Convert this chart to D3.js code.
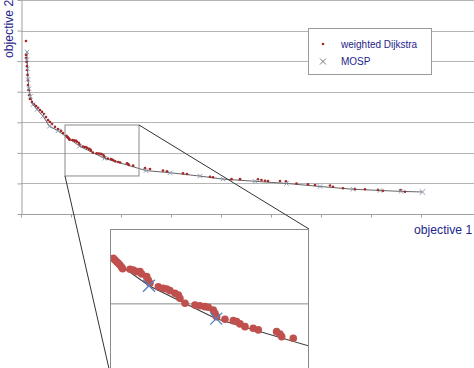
<!DOCTYPE html>
<html><head><meta charset="utf-8">
<script src="https://cdn.jsdelivr.net/npm/d3@7"></script>
<style>
html,body{margin:0;padding:0;background:#fff;}
svg{display:block;}
text{font-family:"Liberation Sans",Arial,sans-serif;}
</style></head>
<body>
<svg id="chart" width="474" height="368"></svg>
<script>
// ---- data (chart units) ----
const xTicks = [0,1,2,3,4,5,6,7,8];
const yTicks = [1,2,3,4,5,6,7];
const dijkstraX = [0.10,0.10,0.10,0.11,0.12,0.12,0.13,0.14,0.14,0.15,0.16,0.18,0.22,0.26,0.30,0.34,0.38,0.42,0.46,0.50,0.54,0.58,0.62,0.68,0.74,0.80,0.84,
  0.905,0.917,0.930,0.942,0.954,0.967,0.974,1.029,1.053,1.079,1.103,1.116,1.153,1.165,1.177,1.239,1.276,1.302,1.326,1.363,1.388,1.400,1.438,1.512,1.549,1.586,1.611,1.648,1.661,1.673,1.735,1.797,1.822,1.847,1.884,1.945,1.983,2.119,2.144,2.157,2.243,
  2.48,2.58,2.84,2.92,3.24,3.32,3.78,3.84,4.21,4.38,4.74,4.81,4.88,4.94,5.18,5.30,5.51,5.74,5.88,6.18,6.24,6.44,6.68,6.88,7.14,7.24,7.59,7.68];
const dijkstraY = [5.66,5.20,5.10,4.97,4.84,4.71,4.55,4.38,4.22,4.06,3.89,3.76,3.66,3.59,3.53,3.47,3.40,3.34,3.27,3.17,3.07,3.01,2.94,2.85,2.78,2.72,2.65,
  2.555,2.534,2.513,2.493,2.473,2.445,2.428,2.421,2.412,2.392,2.392,2.364,2.331,2.291,2.251,2.209,2.190,2.181,2.161,2.129,2.108,2.068,2.007,1.987,1.978,1.966,1.959,1.926,1.886,1.844,1.813,1.796,1.784,1.756,1.723,1.703,1.683,1.662,1.634,1.601,1.582,
  1.50,1.47,1.42,1.40,1.33,1.31,1.22,1.20,1.14,1.14,1.135,1.11,1.09,1.08,1.08,1.07,1.00,0.97,0.95,0.93,0.89,0.84,0.81,0.81,0.785,0.76,0.785,0.73];
const mospX = [0.12,0.12,0.13,0.14,0.16,0.19,0.24,0.32,0.44,0.57,0.74,1.17,1.67,2.50,2.98,3.58,4.04,4.68,5.31,5.98,6.64,7.18,7.60,8.03];
const mospY = [5.30,5.05,4.75,4.40,4.10,3.85,3.58,3.42,3.20,2.87,2.72,2.22,1.82,1.42,1.35,1.24,1.14,1.07,1.00,0.90,0.81,0.77,0.74,0.72];
const zoomX = [0.88, 2.36];
const zoomY = [1.244, 2.911];
const legendLabels = ["weighted Dijkstra", "MOSP"];
const axisLabels = ["objective 1", "objective 2"];

const dijkstra = dijkstraX.map((x,i)=>({x, y: dijkstraY[i]}));
const mosp = mospX.map((x,i)=>({x, y: mospY[i]}));

const svg = d3.select("#chart");
const navy = "#24248a";
const gridCol = "#b4b4b4";

// ---- main scales ----
const x = d3.scaleLinear().domain([0, 9.06]).range([21, 474]);
const y = d3.scaleLinear().domain([0, 7]).range([214, 0]);

const main = svg.append("g");
main.selectAll(".grid").data(yTicks).join("line")
  .attr("x1", x(0)).attr("x2", 474)
  .attr("y1", d=>Math.round(y(d))+0.5).attr("y2", d=>Math.round(y(d))+0.5)
  .attr("stroke", gridCol).attr("stroke-width", 1);

const xAxis = d3.axisBottom(x).tickValues(xTicks).tickFormat("").tickSizeInner(3).tickSizeOuter(0);
const gx = main.append("g").attr("transform", `translate(0,${Math.round(y(0))+0.5})`).call(xAxis);
gx.select(".domain").attr("stroke", "#a0a0a0").attr("d", `M${x(0)},0H474`);
gx.selectAll(".tick line").attr("stroke", "#a0a0a0");
const yAxis = d3.axisLeft(y).tickValues([0].concat(yTicks)).tickFormat("").tickSizeInner(4).tickSizeOuter(0);
const gy = main.append("g").attr("transform", `translate(${Math.round(x(0))+0.5},0)`).call(yAxis);
gy.selectAll(".domain,.tick line").attr("stroke", "#a0a0a0");

const line = d3.line().x(d=>x(d.x)).y(d=>y(d.y));
main.append("path").datum(mosp).attr("d", line)
  .attr("fill","none").attr("stroke","#666").attr("stroke-width",1);
main.selectAll(".dj").data(dijkstra).join("circle")
  .attr("cx", d=>x(d.x)).attr("cy", d=>y(d.y)).attr("r", 1.3)
  .attr("fill", "#a3282a");
const cross = (s)=>`M${-s},${-s}L${s},${s}M${-s},${s}L${s},${-s}`;
main.selectAll(".mx").data(mosp).join("path")
  .attr("transform", d=>`translate(${x(d.x)},${y(d.y)})`)
  .attr("d", (d,i)=> cross(i === mosp.length-1 ? 2.8 : 2.2))
  .attr("stroke", "#8a9ab2").attr("stroke-width", 1).attr("fill","none");

svg.append("text").attr("x", 414).attr("y", 234).attr("font-size", 12.2).attr("fill", navy).text(axisLabels[0]);
svg.append("text").attr("transform", "translate(13,58) rotate(-90)").attr("font-size", 12.2).attr("fill", navy).text(axisLabels[1]);

// ---- zoom rectangle & inset ----
const zx0 = x(zoomX[0]), zx1 = x(zoomX[1]), zy0 = y(zoomY[1]), zy1 = y(zoomY[0]);
main.append("rect").attr("x", zx0).attr("y", zy0).attr("width", zx1-zx0).attr("height", zy1-zy0)
  .attr("fill","none").attr("stroke","#8a8a8a").attr("stroke-width",1);

const ib = {x0:110, x1:309, y0:229, y1:366, yEnd:373};
svg.append("line").attr("x1", zx1).attr("y1", zy0).attr("x2", ib.x1).attr("y2", ib.y0).attr("stroke","#333").attr("stroke-width",1);
svg.append("line").attr("x1", zx0).attr("y1", zy1).attr("x2", ib.x0).attr("y2", ib.yEnd).attr("stroke","#333").attr("stroke-width",1);

const xi = d3.scaleLinear().domain(zoomX).range([ib.x0, ib.x1]);
const yi = d3.scaleLinear().domain([zoomY[1], zoomY[0]]).range([ib.y0, ib.y1]);
svg.append("clipPath").attr("id","insetClip").append("rect")
  .attr("x", ib.x0).attr("y", ib.y0).attr("width", ib.x1-ib.x0).attr("height", ib.yEnd-ib.y0);
const inset = svg.append("g");
inset.append("rect").attr("x", ib.x0).attr("y", ib.y0).attr("width", ib.x1-ib.x0).attr("height", ib.yEnd-ib.y0)
  .attr("fill","#fff");
const ic = inset.append("g").attr("clip-path","url(#insetClip)");
ic.selectAll(".ig").data(yTicks.filter(t=>t>zoomY[0] && t<zoomY[1])).join("line")
  .attr("x1", ib.x0).attr("x2", ib.x1).attr("y1", d=>yi(d)).attr("y2", d=>yi(d))
  .attr("stroke","#8a8a8a").attr("stroke-width",1);
ic.append("path").datum(mosp).attr("d", d3.line().x(d=>xi(d.x)).y(d=>yi(d.y)))
  .attr("fill","none").attr("stroke","#3a3a3a").attr("stroke-width",1.1);
ic.selectAll(".idj").data(dijkstra).join("circle")
  .attr("cx", d=>xi(d.x)).attr("cy", d=>yi(d.y)).attr("r", 3.8).attr("fill", "#c0504d");
ic.selectAll(".imx").data(mosp).join("path")
  .attr("transform", d=>`translate(${xi(d.x)},${yi(d.y)})`)
  .attr("d", cross(6)).attr("stroke", "#4f81bd").attr("stroke-width", 1.3).attr("fill","none");
inset.append("rect").attr("x", ib.x0+0.5).attr("y", ib.y0+0.5).attr("width", ib.x1-ib.x0-1).attr("height", ib.yEnd-ib.y0)
  .attr("fill","none").attr("stroke","#8a8a8a").attr("stroke-width",1);

// ---- legend ----
const lg = svg.append("g");
lg.append("rect").attr("x", 308.5).attr("y", 28.5).attr("width", 123).attr("height", 46)
  .attr("fill","#fff").attr("stroke","#9a9a9a").attr("stroke-width",1);
lg.append("circle").attr("cx", 323).attr("cy", 44).attr("r", 1.3).attr("fill", "#a3282a");
lg.append("path").attr("transform","translate(323,61.5)").attr("d", cross(3)).attr("stroke","#777").attr("stroke-width",1).attr("fill","none");
lg.selectAll(".lt").data(legendLabels).join("text")
  .attr("x", 341).attr("y", (d,i)=>47.5 + i*17.5).attr("font-size", 10).attr("fill", navy).text(d=>d);
</script>
</body></html>
